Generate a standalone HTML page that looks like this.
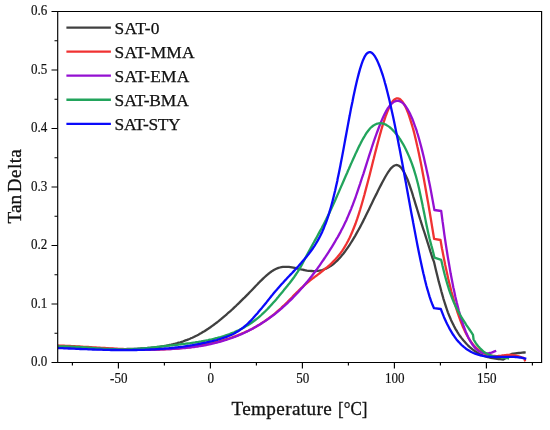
<!DOCTYPE html>
<html lang="en"><head><meta charset="utf-8"><title>Tan Delta vs Temperature</title>
<style>html,body{margin:0;padding:0;background:#fff}body{width:550px;height:430px;overflow:hidden}</style>
</head><body>
<svg width="550" height="430" viewBox="0 0 550 430" style="display:block">
<rect width="550" height="430" fill="#fff"/>
<g fill="none" stroke-width="2.3" stroke-linejoin="round" stroke-linecap="butt">
<path d="M58.0 346.5L59.5 346.6L61.0 346.6L62.5 346.7L64.0 346.8L65.5 346.9L67.1 347.0L68.6 347.1L70.1 347.1L71.6 347.2L73.1 347.3L74.6 347.4L76.1 347.5L77.6 347.6L79.1 347.7L80.0 347.7L80.6 347.7L82.1 347.8L83.7 347.9L85.2 348.0L86.7 348.1L88.2 348.1L89.7 348.2L91.2 348.3L92.7 348.4L94.2 348.4L95.7 348.5L97.2 348.6L98.8 348.6L100.0 348.7L100.3 348.7L101.8 348.7L103.3 348.8L104.8 348.8L106.3 348.9L107.8 348.9L109.3 349.0L110.8 349.0L112.3 349.0L113.8 349.0L115.0 349.1L115.4 349.1L116.9 349.1L118.4 349.1L119.9 349.1L121.4 349.1L122.9 349.1L124.4 349.1L125.9 349.1L127.4 349.0L128.0 349.0L128.9 349.0L130.4 349.0L132.0 348.9L133.5 348.9L135.0 348.8L136.5 348.8L138.0 348.7L139.5 348.6L140.0 348.6L141.0 348.5L142.5 348.4L144.0 348.3L145.5 348.2L147.0 348.1L148.0 348.0L148.6 348.0L150.1 347.9L151.6 347.7L153.1 347.6L154.6 347.4L156.1 347.2L157.3 347.1L157.6 347.0L159.1 346.8L160.6 346.6L162.1 346.4L163.6 346.2L165.2 345.9L166.4 345.7L166.7 345.6L168.2 345.3L169.7 345.0L171.2 344.7L172.7 344.3L174.2 344.0L175.5 343.6L175.7 343.6L177.2 343.2L178.7 342.7L180.3 342.3L181.8 341.8L183.3 341.3L184.5 340.8L184.8 340.7L186.3 340.2L187.8 339.6L189.3 339.0L190.0 338.7L190.8 338.3L192.3 337.7L193.8 337.0L195.3 336.2L196.9 335.5L198.4 334.7L199.1 334.3L199.9 333.8L201.4 333.0L202.9 332.1L204.4 331.2L205.9 330.2L207.4 329.2L208.2 328.7L208.9 328.2L210.4 327.2L211.9 326.1L213.5 325.0L215.0 323.9L216.5 322.8L217.3 322.1L218.0 321.6L219.5 320.4L221.0 319.2L222.5 317.9L224.0 316.6L225.5 315.4L226.4 314.6L227.0 314.0L228.5 312.7L230.1 311.4L231.6 310.0L233.1 308.6L234.6 307.2L235.5 306.3L236.1 305.8L237.6 304.3L239.1 302.9L240.6 301.4L242.1 299.9L243.6 298.4L244.5 297.6L245.2 296.9L246.7 295.4L248.2 293.9L249.7 292.3L251.2 290.8L252.7 289.2L253.6 288.2L254.2 287.6L255.7 286.0L257.2 284.5L258.7 282.9L259.1 282.5L260.2 281.4L261.8 279.9L263.3 278.4L264.8 277.0L266.3 275.6L267.8 274.3L268.2 274.0L269.3 273.1L270.8 272.0L272.3 270.9L273.8 270.0L275.3 269.2L276.8 268.5L277.3 268.3L278.4 267.9L279.9 267.5L281.4 267.1L282.9 266.9L284.4 266.8L285.9 266.8L286.4 266.8L287.4 266.8L288.9 266.9L290.4 267.1L291.9 267.4L293.4 267.7L295.0 268.0L295.5 268.1L296.5 268.3L298.0 268.7L299.5 269.0L301.0 269.4L302.5 269.7L304.0 270.0L304.5 270.1L305.5 270.3L307.0 270.6L308.5 270.8L310.0 270.9L311.6 271.0L313.1 271.1L313.6 271.1L314.6 271.1L316.1 271.0L317.6 270.9L319.1 270.7L320.6 270.4L322.1 270.0L322.7 269.8L323.6 269.5L325.1 268.9L326.7 268.3L328.2 267.5L329.7 266.6L331.2 265.7L331.8 265.2L332.7 264.6L334.2 263.3L335.7 262.0L337.2 260.6L338.7 259.0L340.2 257.4L340.8 256.8L341.7 255.6L343.3 253.7L344.8 251.8L346.3 249.7L347.8 247.6L349.3 245.4L349.3 245.4L350.8 243.0L352.3 240.6L353.8 238.1L355.3 235.6L356.8 232.9L358.3 230.2L359.9 227.4L361.4 224.5L361.8 223.7L362.9 221.6L364.4 218.6L364.5 218.4L365.9 215.6L367.4 212.5L368.9 209.4L370.4 206.3L371.9 203.2L373.4 200.1L374.4 198.0L374.9 197.0L376.5 193.9L378.0 190.8L379.5 187.8L381.0 184.9L382.5 182.0L384.0 179.2L384.0 179.2L385.5 176.5L387.0 174.0L388.5 171.6L388.6 171.5L390.0 169.6L391.5 167.8L393.1 166.4L393.2 166.3L394.6 165.5L396.1 165.0L397.2 165.1L397.6 165.2L399.1 165.9L400.5 167.0L400.6 167.1L402.1 169.0L403.6 171.3L403.9 171.8L405.1 174.2L406.6 177.5L407.2 178.8L408.2 181.3L409.7 185.5L410.2 187.2L411.2 190.0L412.7 194.7L413.4 197.1L414.2 199.6L415.7 204.6L416.8 208.2L417.2 209.5L418.7 214.4L420.2 219.3L420.5 220.1L421.7 224.1L423.2 228.8L424.1 231.5L424.8 233.6L426.3 238.4L426.8 240.0L427.8 243.1L428.6 245.7L429.3 247.9L430.5 251.8L430.8 252.7L432.3 257.5L434.1 262.2L435.6 268.8L437.2 275.2L437.7 277.3L438.7 281.4L440.3 287.3L441.4 291.5L441.8 292.9L443.3 298.3L444.3 301.5L444.9 303.3L446.2 307.4L446.4 308.0L447.9 312.3L449.4 316.1L449.5 316.2L451.0 319.9L452.6 323.2L453.5 325.1L454.1 326.3L455.6 329.1L457.2 331.7L457.6 332.4L458.7 334.1L460.2 336.3L461.6 338.1L461.8 338.4L463.3 340.3L464.9 342.1L465.7 343.0L466.4 343.8L467.9 345.3L469.5 346.8L469.8 347.1L471.0 348.1L472.5 349.4L473.9 350.4L474.1 350.5L475.6 351.6L477.2 352.5L477.9 352.9L478.7 353.4L480.2 354.2L481.8 354.9L482.0 355.0L483.3 355.5L484.8 356.1L486.4 356.6L487.9 357.1L489.5 357.5L490.1 357.6L491.0 357.8L492.5 358.2L494.1 358.4L495.6 358.7L497.1 358.9L498.3 359.0L498.7 359.1L500.2 359.2L501.8 359.4L503.3 359.5L505.0 358.6L506.7 357.2L507.5 356.6L508.4 355.9L510.0 354.8L510.2 354.7L511.9 353.9L513.0 353.7L513.6 353.6L515.4 353.4L517.1 353.2L518.8 353.0L519.0 353.0L520.5 352.9L522.2 352.7L524.0 352.5L525.7 352.4" stroke="#404040"/>
<path d="M58.0 345.5L59.5 345.6L61.0 345.6L62.5 345.7L64.0 345.7L65.6 345.8L67.1 345.9L68.6 345.9L70.1 346.0L71.6 346.1L73.1 346.2L74.6 346.2L76.1 346.3L77.6 346.4L79.1 346.5L80.0 346.5L80.7 346.6L82.2 346.7L83.7 346.8L85.2 346.8L86.7 346.9L88.2 347.0L89.7 347.1L91.2 347.2L92.7 347.3L94.3 347.4L95.8 347.5L97.3 347.6L98.8 347.7L100.0 347.7L100.3 347.8L101.8 347.9L103.3 347.9L104.8 348.0L106.3 348.1L107.8 348.2L109.4 348.3L110.9 348.4L112.4 348.5L113.9 348.6L115.0 348.6L115.4 348.6L116.9 348.7L118.4 348.8L119.9 348.9L121.4 348.9L122.9 349.0L124.5 349.1L126.0 349.1L127.5 349.2L128.0 349.2L129.0 349.2L130.5 349.3L132.0 349.3L133.5 349.4L135.0 349.4L136.5 349.5L138.1 349.5L139.6 349.5L140.0 349.5L141.1 349.6L142.6 349.6L144.1 349.6L145.6 349.6L147.1 349.6L148.6 349.6L150.0 349.6L150.1 349.6L151.6 349.6L153.2 349.6L154.7 349.6L156.2 349.5L157.7 349.5L159.2 349.5L160.7 349.4L162.2 349.4L163.7 349.3L165.2 349.3L166.8 349.2L168.3 349.1L169.8 349.0L170.0 349.0L171.3 348.9L172.8 348.8L174.3 348.7L175.8 348.6L177.3 348.5L178.8 348.3L180.3 348.2L181.9 348.0L183.4 347.9L184.9 347.7L186.4 347.5L187.9 347.4L189.4 347.2L190.0 347.1L190.9 347.0L192.4 346.8L193.9 346.5L195.5 346.3L197.0 346.1L198.5 345.8L199.1 345.7L200.0 345.6L201.5 345.3L203.0 345.0L204.5 344.7L206.0 344.4L207.5 344.1L208.2 343.9L209.0 343.8L210.6 343.4L212.1 343.1L213.6 342.7L215.1 342.3L216.6 342.0L217.3 341.8L218.1 341.6L219.6 341.2L221.1 340.7L222.6 340.3L224.1 339.9L225.7 339.4L226.4 339.2L227.2 338.9L228.7 338.5L230.2 338.0L231.7 337.5L233.2 336.9L234.7 336.4L235.5 336.1L236.2 335.8L237.7 335.3L239.3 334.7L240.8 334.0L242.3 333.4L243.8 332.8L244.5 332.4L245.3 332.1L246.8 331.4L248.3 330.7L249.8 329.9L251.3 329.2L252.8 328.4L253.6 328.0L254.4 327.5L255.9 326.7L257.4 325.8L258.9 324.9L260.4 324.0L261.9 323.0L262.7 322.5L263.4 322.1L264.9 321.0L266.4 320.0L268.0 318.9L269.5 317.8L271.0 316.7L271.8 316.0L272.5 315.5L274.0 314.3L275.5 313.0L277.0 311.7L278.5 310.4L280.0 309.1L280.9 308.3L281.5 307.7L283.1 306.2L284.6 304.8L286.1 303.3L287.6 301.8L289.1 300.2L290.0 299.3L290.6 298.7L292.1 297.2L293.6 295.6L295.1 294.1L295.5 293.7L296.6 292.6L298.2 291.1L299.7 289.6L301.2 288.2L302.7 286.8L304.2 285.4L304.5 285.2L305.7 284.1L307.2 282.8L308.7 281.6L310.2 280.4L311.8 279.2L313.1 278.2L313.3 278.0L314.8 276.9L316.3 275.8L317.8 274.6L319.3 273.5L320.8 272.3L322.3 271.1L322.4 271.1L323.8 269.9L325.3 268.7L326.9 267.4L328.4 266.1L329.9 264.8L331.4 263.4L331.8 263.0L332.9 261.9L334.4 260.4L335.9 258.7L337.4 257.0L338.9 255.2L340.5 253.2L340.9 252.6L342.0 251.1L343.5 248.8L345.0 246.4L346.5 243.8L348.0 241.0L349.5 238.0L350.0 236.9L351.0 234.7L352.5 231.2L354.0 227.5L355.6 223.5L356.4 221.1L357.1 219.2L358.6 214.6L360.0 210.1L360.1 209.8L361.6 204.7L363.1 199.5L364.5 194.5L364.6 194.0L366.1 188.4L367.6 182.7L369.1 177.0L369.2 176.8L370.7 170.8L372.2 164.8L373.6 159.1L373.7 158.8L375.2 152.8L376.4 148.1L376.7 146.9L378.2 141.2L379.7 135.6L380.9 131.4L381.2 130.2L382.7 125.1L384.3 120.3L385.5 116.6L385.8 115.9L387.3 111.9L388.8 108.3L390.0 105.7L390.3 105.1L391.8 102.6L393.3 100.5L394.5 99.4L394.8 99.2L396.3 98.4L397.8 98.3L397.8 98.3L399.4 98.8L400.9 99.9L401.8 100.9L402.4 101.6L403.9 103.9L405.4 106.7L405.5 106.9L406.9 110.1L408.4 113.9L409.1 115.8L409.9 118.3L411.4 123.1L412.7 127.5L413.0 128.4L414.5 134.2L416.0 140.4L417.3 146.2L417.5 147.0L419.0 154.0L420.5 161.3L421.0 163.8L422.0 169.0L423.5 177.0L424.1 180.2L425.0 185.3L426.5 193.8L427.7 200.5L428.1 202.6L429.6 211.5L431.1 220.5L431.4 222.4L432.6 229.7L434.1 238.9L440.5 240.0L442.0 248.7L442.3 250.0L443.6 256.8L445.0 263.8L445.1 264.5L446.7 271.8L448.2 278.6L448.6 280.2L449.8 285.1L451.3 291.2L452.9 296.9L452.9 296.9L454.4 302.3L455.0 304.1L456.0 307.4L457.5 312.3L458.6 315.5L459.1 316.8L460.6 321.0L462.2 325.0L462.7 326.4L463.7 328.6L465.3 332.0L466.8 335.0L467.2 335.7L468.4 337.8L469.9 340.2L470.6 341.3L471.5 342.5L473.0 344.4L473.9 345.5L474.6 346.2L476.1 347.8L477.7 349.2L477.9 349.4L479.2 350.4L480.8 351.5L482.0 352.3L482.3 352.4L483.8 353.2L485.4 353.9L486.9 354.5L488.5 355.0L490.0 355.3L490.1 355.4L491.6 355.7L493.1 355.9L494.7 356.0L496.2 356.1L497.8 356.1L498.5 356.0L499.3 356.0L500.9 355.8L502.4 355.5L504.0 355.3L504.8 355.2L505.5 355.1L506.4 355.0L507.1 354.9L508.6 354.9L510.2 354.9L511.0 354.9L511.7 354.9L513.3 355.1L514.1 355.3L514.8 355.4L516.4 355.7L517.9 356.1L519.5 356.6L521.0 357.1L521.8 357.4L522.6 357.6L524.1 358.2L525.2 361.3" stroke="#F03232"/>
<path d="M58.0 347.0L59.5 347.1L61.0 347.2L62.5 347.3L64.0 347.4L65.6 347.5L67.1 347.6L68.6 347.6L70.1 347.7L71.6 347.8L73.1 347.9L74.6 348.0L76.1 348.1L77.7 348.1L79.2 348.2L80.0 348.3L80.7 348.3L82.2 348.4L83.7 348.4L85.2 348.5L86.7 348.6L88.2 348.6L89.7 348.7L91.3 348.7L92.8 348.8L94.3 348.9L95.8 348.9L97.3 349.0L98.8 349.0L100.0 349.1L100.3 349.1L101.8 349.1L103.3 349.2L104.9 349.2L106.4 349.2L107.9 349.3L109.4 349.3L110.9 349.4L112.4 349.4L113.9 349.4L115.0 349.4L115.4 349.4L117.0 349.5L118.5 349.5L120.0 349.5L121.5 349.5L123.0 349.6L124.5 349.6L126.0 349.6L127.5 349.6L128.0 349.6L129.0 349.6L130.6 349.6L132.1 349.6L133.6 349.6L135.1 349.6L136.6 349.6L138.1 349.6L139.6 349.6L140.0 349.6L141.1 349.6L142.7 349.6L144.2 349.6L145.7 349.6L147.2 349.6L148.7 349.6L150.0 349.6L150.2 349.6L151.7 349.5L153.2 349.5L154.7 349.5L156.3 349.5L157.8 349.4L159.3 349.4L160.8 349.4L162.3 349.3L163.8 349.3L165.3 349.2L166.8 349.2L168.4 349.1L169.9 349.0L170.0 349.0L171.4 349.0L172.9 348.9L174.4 348.8L175.9 348.7L177.4 348.6L178.9 348.5L180.4 348.4L182.0 348.2L183.5 348.1L185.0 348.0L186.5 347.8L188.0 347.7L189.5 347.5L190.0 347.5L191.0 347.3L192.5 347.1L194.0 347.0L195.6 346.7L197.1 346.5L198.6 346.3L199.1 346.2L200.1 346.1L201.6 345.8L203.1 345.6L204.6 345.3L206.1 345.0L207.7 344.7L208.2 344.6L209.2 344.4L210.7 344.1L212.2 343.7L213.7 343.4L215.2 343.0L216.7 342.6L217.3 342.5L218.2 342.2L219.7 341.8L221.3 341.4L222.8 341.0L224.3 340.5L225.8 340.0L226.4 339.8L227.3 339.5L228.8 339.0L230.3 338.5L231.8 338.0L233.4 337.4L234.9 336.8L235.5 336.6L236.4 336.2L237.9 335.6L239.4 335.0L240.9 334.4L242.4 333.7L243.9 333.0L244.5 332.7L245.4 332.3L247.0 331.6L248.5 330.8L250.0 330.0L251.5 329.2L253.0 328.4L253.6 328.1L254.5 327.6L256.0 326.7L257.5 325.8L259.0 324.9L260.6 324.0L262.1 323.0L262.7 322.6L263.6 322.1L265.1 321.1L266.6 320.0L268.1 319.0L269.6 317.9L271.1 316.8L271.8 316.3L272.7 315.6L274.2 314.5L275.7 313.3L277.2 312.1L278.7 310.8L280.2 309.6L280.9 309.0L281.7 308.3L283.2 306.9L284.7 305.6L286.3 304.2L287.8 302.8L289.3 301.3L290.0 300.6L290.8 299.9L292.3 298.4L293.8 296.8L295.3 295.2L295.5 295.1L296.8 293.6L298.4 292.0L299.9 290.3L301.4 288.6L302.9 286.9L304.4 285.1L304.5 285.0L305.9 283.3L307.4 281.5L308.9 279.6L310.4 277.7L312.0 275.8L313.5 273.8L314.5 272.5L315.0 271.8L316.5 269.8L318.0 267.7L319.5 265.6L321.0 263.4L322.5 261.2L323.0 260.5L324.0 259.0L325.6 256.7L327.1 254.4L328.6 252.1L330.1 249.7L331.6 247.3L332.5 245.8L333.1 244.8L334.6 242.3L336.1 239.7L337.7 237.1L339.2 234.4L340.7 231.6L342.1 228.8L342.2 228.7L343.7 225.7L345.2 222.6L346.5 219.9L346.7 219.3L348.2 215.9L349.7 212.3L351.3 208.6L351.5 207.9L352.8 204.7L354.3 200.7L355.8 196.6L355.8 196.5L357.3 192.1L358.8 187.7L360.0 184.1L360.3 183.1L361.8 178.5L363.4 173.8L364.5 170.3L364.9 169.1L366.4 164.4L367.3 161.5L367.9 159.6L369.4 154.9L370.9 150.3L371.8 147.5L372.4 145.7L373.9 141.2L375.4 136.8L376.4 134.1L377.0 132.5L378.5 128.5L380.0 124.6L380.9 122.3L381.5 120.9L383.0 117.5L384.5 114.3L385.5 112.4L386.0 111.4L387.5 108.8L389.1 106.6L390.0 105.4L390.6 104.7L392.1 103.2L393.6 102.1L394.5 101.5L395.1 101.3L396.6 100.9L397.3 100.8L398.1 100.9L399.6 101.2L401.1 101.9L401.8 102.4L402.7 103.0L404.2 104.5L405.5 106.1L405.7 106.4L407.2 108.6L408.7 111.2L409.1 111.9L410.2 114.1L411.7 117.5L412.7 119.8L413.2 121.2L414.7 125.3L416.3 129.7L417.3 133.0L417.8 134.5L419.3 139.7L420.8 145.2L421.8 149.1L422.3 151.1L423.8 157.3L425.3 163.9L425.9 166.5L426.8 170.8L428.4 178.0L428.6 179.2L429.9 185.5L431.4 193.4L431.4 193.5L432.9 201.6L434.4 210.0L441.2 211.0L442.6 221.7L442.8 222.9L444.3 234.2L445.0 238.8L445.9 244.9L447.5 255.0L447.7 256.3L449.1 264.4L450.5 272.6L450.6 273.3L452.2 281.5L453.4 287.7L453.8 289.3L455.3 296.5L456.7 302.2L456.9 303.1L458.5 309.3L458.7 310.2L460.1 315.0L461.6 320.2L461.9 320.9L463.2 324.9L464.8 329.2L465.8 331.9L466.3 333.1L467.9 336.6L468.2 337.2L469.5 339.7L470.4 341.4L471.1 342.4L472.6 344.8L473.9 346.5L474.2 346.9L475.8 348.6L477.3 350.0L477.9 350.5L478.9 351.2L480.5 352.1L482.0 352.7L482.1 352.8L483.6 353.2L485.2 353.4L486.8 353.4L486.9 353.4L488.3 353.3L489.9 353.0L490.1 353.0L491.5 352.6L493.1 352.1L493.4 351.9L494.6 351.4L496.2 350.7" stroke="#9410D2"/>
<path d="M58.0 346.5L59.5 346.5L61.0 346.5L62.5 346.5L64.0 346.5L65.5 346.5L67.0 346.5L68.5 346.6L70.0 346.6L71.6 346.7L73.1 346.7L74.6 346.8L76.1 346.9L77.6 347.0L79.1 347.0L80.0 347.1L80.6 347.1L82.1 347.2L83.6 347.3L85.1 347.4L86.6 347.5L88.1 347.6L89.6 347.7L91.1 347.8L92.6 347.9L94.1 348.1L95.7 348.2L97.2 348.3L98.7 348.4L100.0 348.5L100.2 348.5L101.7 348.6L103.2 348.7L104.7 348.8L106.2 348.8L107.7 348.9L109.2 349.0L110.7 349.1L112.2 349.1L113.7 349.2L115.0 349.2L115.2 349.2L116.7 349.3L118.2 349.3L119.7 349.4L121.3 349.4L122.8 349.4L124.3 349.4L125.8 349.4L127.3 349.3L128.0 349.3L128.8 349.3L130.3 349.2L131.8 349.2L133.3 349.1L134.8 349.0L136.3 348.9L137.8 348.8L139.3 348.7L140.0 348.7L140.8 348.6L142.3 348.5L143.8 348.4L145.3 348.2L146.9 348.1L148.2 347.9L148.4 347.9L149.9 347.8L151.4 347.6L152.9 347.4L154.4 347.3L155.9 347.1L157.4 346.9L158.9 346.8L160.4 346.6L161.9 346.4L163.4 346.3L164.9 346.1L166.4 345.9L166.4 345.9L167.9 345.7L169.4 345.6L170.9 345.4L172.5 345.3L174.0 345.1L175.5 344.9L177.0 344.8L178.5 344.6L180.0 344.4L181.5 344.2L183.0 344.1L184.5 343.9L184.5 343.9L186.0 343.7L187.5 343.5L189.0 343.3L190.0 343.2L190.5 343.1L192.0 342.9L193.5 342.7L195.0 342.5L196.6 342.2L198.1 342.0L199.1 341.8L199.6 341.7L201.1 341.5L202.6 341.2L204.1 340.9L205.6 340.6L207.1 340.3L208.2 340.1L208.6 340.0L210.1 339.7L211.6 339.4L213.1 339.0L214.6 338.6L216.1 338.2L217.3 337.9L217.6 337.8L219.1 337.4L220.6 337.0L222.2 336.5L223.7 336.1L225.2 335.6L226.4 335.2L226.7 335.1L228.2 334.5L229.7 334.0L231.2 333.4L232.7 332.8L234.2 332.2L235.5 331.6L235.7 331.6L237.2 330.9L238.7 330.2L240.2 329.4L241.7 328.7L243.2 327.9L244.5 327.2L244.7 327.0L246.2 326.1L247.8 325.2L249.3 324.3L250.8 323.3L252.3 322.2L253.6 321.3L253.8 321.2L255.3 320.0L256.8 318.8L258.3 317.6L259.8 316.3L261.3 315.0L262.7 313.7L262.8 313.6L264.3 312.2L265.8 310.7L267.3 309.2L268.8 307.6L270.3 306.0L271.8 304.4L271.9 304.3L273.4 302.6L274.9 300.9L276.4 299.2L277.3 298.1L277.9 297.4L279.4 295.6L280.9 293.8L282.4 292.0L283.9 290.1L285.4 288.3L286.4 287.1L286.9 286.4L288.4 284.6L289.9 282.7L291.4 280.7L292.9 278.7L294.4 276.7L295.9 274.5L296.8 273.2L297.5 272.2L299.0 269.7L300.4 267.3L300.5 267.1L302.0 264.4L303.5 261.5L304.5 259.6L305.0 258.7L306.5 255.9L308.0 253.1L309.5 250.3L311.0 247.6L312.5 244.8L313.9 242.3L314.0 242.1L315.5 239.4L317.0 236.7L318.5 233.9L320.0 231.1L321.6 228.3L323.0 225.6L323.1 225.4L324.6 222.5L326.1 219.6L327.6 216.5L328.2 215.3L329.1 213.4L330.6 210.3L332.1 207.0L333.6 203.7L335.1 200.4L336.6 197.0L337.3 195.4L338.1 193.6L339.6 190.1L341.1 186.6L342.6 183.2L344.1 179.7L345.6 176.2L347.2 172.7L348.3 170.0L348.7 169.2L350.2 165.8L351.1 163.6L351.7 162.4L353.2 159.0L354.7 155.7L355.6 153.6L356.2 152.4L357.7 149.2L359.2 146.1L360.3 144.0L360.7 143.1L362.2 140.3L363.7 137.6L364.8 135.8L365.2 135.1L366.7 132.7L368.2 130.7L369.4 129.2L369.7 128.8L371.2 127.3L372.8 126.0L373.9 125.2L374.3 125.0L375.8 124.2L377.3 123.6L378.6 123.4L378.8 123.3L380.3 123.2L381.8 123.4L382.2 123.4L383.3 123.7L384.8 124.2L386.3 124.9L386.7 125.2L387.8 125.9L389.3 126.9L390.6 128.0L390.8 128.2L392.3 129.6L393.8 131.2L394.8 132.3L395.3 132.9L396.9 134.7L398.4 136.7L399.2 137.9L399.9 138.9L401.4 141.3L402.9 143.8L403.9 145.6L404.4 146.5L405.9 149.5L407.4 152.7L408.9 156.1L409.4 157.2L410.4 159.7L411.9 163.7L413.4 168.0L413.7 168.9L414.9 172.8L416.0 176.5L416.4 178.0L417.9 183.8L419.4 189.9L419.4 190.2L420.9 197.2L422.5 204.7L422.8 206.4L424.0 212.3L425.5 219.9L426.1 223.0L427.0 227.3L428.5 234.2L429.5 238.5L430.0 240.4L431.4 245.6L431.5 245.9L433.0 251.5L433.2 252.3L434.5 257.7L441.2 259.9L442.6 266.1L442.8 266.9L444.4 273.4L445.0 275.8L446.0 279.4L447.6 284.8L448.6 288.2L449.1 289.8L450.7 294.4L452.3 298.6L452.3 298.6L453.9 302.5L455.5 306.1L455.9 306.9L457.1 309.3L457.6 310.3L458.7 312.4L460.3 315.2L461.6 317.5L461.9 317.9L463.5 320.5L465.1 322.9L465.7 323.9L466.6 325.3L468.2 327.6L469.8 330.0L469.8 330.0L471.4 332.4L473.0 334.9L473.6 339.5L475.2 342.1L475.5 342.6L476.8 344.5L478.4 346.5L478.7 346.8L480.1 348.3L481.7 349.9L482.0 350.2L483.3 351.3L484.9 352.5L486.1 353.3L486.5 353.5L488.1 354.3L489.7 355.0L490.1 355.2L491.4 355.6L493.0 356.1L494.6 356.5L496.2 356.8L497.8 357.0L498.3 357.1L499.4 357.2L501.0 357.4L502.6 357.6L504.3 357.7L505.9 358.0L506.4 358.0L507.5 358.2L509.1 358.5" stroke="#22A45C"/>
<path d="M58.0 348.0L59.5 348.1L61.0 348.1L62.5 348.2L64.0 348.3L65.6 348.3L67.1 348.4L68.6 348.5L70.1 348.5L71.6 348.6L73.1 348.7L74.6 348.7L76.1 348.8L77.6 348.9L79.1 348.9L80.0 349.0L80.7 349.0L82.2 349.1L83.7 349.1L85.2 349.2L86.7 349.2L88.2 349.3L89.7 349.3L91.2 349.4L92.7 349.5L94.2 349.5L95.8 349.6L97.3 349.6L98.8 349.7L100.0 349.7L100.3 349.7L101.8 349.7L103.3 349.8L104.8 349.8L106.3 349.9L107.8 349.9L109.3 349.9L110.9 350.0L112.4 350.0L113.9 350.0L115.0 350.0L115.4 350.0L116.9 350.1L118.4 350.1L119.9 350.1L121.4 350.1L122.9 350.1L124.4 350.1L126.0 350.1L127.5 350.1L128.0 350.1L129.0 350.1L130.5 350.1L132.0 350.1L133.5 350.0L135.0 350.0L136.5 350.0L138.0 349.9L139.5 349.9L140.0 349.9L141.1 349.9L142.6 349.8L144.1 349.8L145.6 349.7L147.1 349.7L148.2 349.6L148.6 349.6L150.1 349.5L151.6 349.4L153.1 349.4L154.6 349.3L156.2 349.2L157.7 349.1L159.2 349.0L160.7 348.9L162.2 348.8L163.7 348.7L165.2 348.5L166.4 348.4L166.7 348.4L168.2 348.3L169.7 348.1L171.3 348.0L172.8 347.8L174.3 347.7L175.8 347.5L177.3 347.3L178.8 347.1L180.3 347.0L181.8 346.8L183.3 346.6L184.5 346.4L184.8 346.3L186.4 346.1L187.9 345.9L189.4 345.7L190.0 345.6L190.9 345.4L192.4 345.2L193.9 344.9L195.4 344.7L196.9 344.4L198.4 344.1L199.1 344.0L199.9 343.8L201.5 343.5L203.0 343.2L204.5 342.9L206.0 342.6L207.5 342.2L208.2 342.1L209.0 341.9L210.5 341.5L212.0 341.2L213.5 340.8L215.0 340.4L216.6 340.0L217.3 339.8L218.1 339.5L219.6 339.1L221.1 338.7L222.6 338.2L224.1 337.7L225.6 337.2L226.4 336.9L227.1 336.6L228.6 336.0L230.1 335.4L231.7 334.7L233.2 334.0L234.7 333.2L235.5 332.7L236.2 332.3L237.7 331.4L239.2 330.5L240.7 329.4L242.2 328.3L243.7 327.1L244.5 326.5L245.2 325.9L246.8 324.5L248.3 323.1L249.8 321.6L251.3 320.1L252.8 318.5L253.6 317.6L254.3 316.8L255.8 315.1L257.3 313.4L258.8 311.6L260.3 309.8L261.9 307.9L262.7 306.9L263.4 306.1L264.9 304.2L266.4 302.4L267.9 300.5L269.4 298.6L270.9 296.7L271.8 295.6L272.4 294.9L273.9 293.0L275.4 291.2L277.0 289.5L277.3 289.1L278.5 287.7L280.0 286.0L281.5 284.3L283.0 282.7L284.5 281.0L286.0 279.4L286.4 279.0L287.5 277.8L289.0 276.2L290.5 274.6L292.1 273.0L293.6 271.4L295.1 269.8L295.5 269.3L296.6 268.1L298.1 266.5L299.6 264.8L301.1 263.1L302.6 261.3L304.1 259.6L304.8 258.8L305.6 257.8L307.2 255.9L308.7 254.0L309.8 252.5L310.2 252.0L311.7 250.0L312.8 248.5L313.2 247.8L314.7 245.6L315.7 244.0L316.2 243.2L317.7 240.6L318.1 239.9L319.2 237.9L320.6 235.3L320.7 234.9L322.3 231.7L323.0 229.9L323.8 228.2L325.1 224.7L325.3 224.4L326.8 220.3L327.4 218.6L328.3 215.8L329.4 212.4L329.8 210.9L330.8 207.5L331.3 205.7L332.7 200.5L332.8 200.1L334.3 194.0L335.2 190.3L335.8 187.4L337.4 180.5L337.5 179.6L338.9 173.1L340.4 165.5L340.7 163.8L341.9 157.6L343.4 149.6L344.9 141.4L345.1 140.3L346.4 133.2L347.9 125.1L349.4 117.0L349.6 116.1L350.9 109.1L352.5 101.5L353.4 96.7L354.0 94.1L355.5 87.1L357.0 80.6L357.7 77.7L358.5 74.6L360.0 69.1L361.5 64.3L362.3 62.1L363.0 60.2L364.5 56.9L365.9 54.6L366.0 54.4L367.6 52.9L369.1 52.2L369.5 52.1L370.6 52.2L372.1 53.1L373.2 54.1L373.6 54.6L375.1 56.7L376.6 59.4L376.8 59.7L378.1 62.6L379.6 66.3L380.5 68.6L381.1 70.4L382.7 75.0L384.2 80.0L385.0 83.0L385.7 85.4L387.2 91.2L388.7 97.3L389.5 100.6L390.2 103.7L391.7 110.4L393.2 117.3L394.5 123.4L394.7 124.5L396.2 131.9L397.8 139.6L399.1 146.5L399.3 147.3L400.8 155.3L402.3 163.3L403.3 168.8L403.8 171.5L405.3 179.7L405.9 182.9L406.8 188.0L408.3 196.2L409.5 202.7L409.8 204.5L411.3 212.8L412.9 221.0L413.2 222.8L414.4 229.1L415.9 237.1L416.9 242.4L417.4 244.9L418.9 252.4L420.4 259.8L421.1 263.0L421.9 266.8L423.4 273.5L424.0 275.8L424.9 279.8L426.4 285.8L427.5 289.6L428.0 291.3L429.5 296.3L431.0 300.9L431.0 300.9L432.5 304.8L434.0 308.2L440.8 309.0L442.4 313.1L442.9 314.4L443.9 316.9L445.5 320.4L446.2 322.0L447.0 323.7L448.6 326.8L449.4 328.4L450.1 329.7L451.7 332.3L453.2 334.8L453.5 335.2L454.8 337.1L456.3 339.2L457.6 340.7L457.9 341.1L459.5 342.8L461.0 344.4L461.6 345.0L462.6 345.9L464.1 347.2L465.7 348.4L465.7 348.5L467.2 349.5L468.8 350.5L469.8 351.1L470.3 351.4L471.9 352.3L473.4 353.0L473.9 353.2L475.0 353.6L476.6 354.2L478.1 354.7L479.7 355.2L481.2 355.6L482.0 355.7L482.8 355.9L484.3 356.2L485.9 356.4L487.4 356.6L489.0 356.7L490.1 356.8L490.5 356.8L492.1 356.9L493.7 356.9L495.2 357.0L496.8 357.0L498.3 356.9L498.3 356.9L499.9 356.9L501.4 356.9L503.0 356.9L504.5 356.8L506.1 356.8L506.4 356.8L507.6 356.8L509.2 356.8L510.8 356.8L512.3 356.8L513.9 356.9L514.1 356.9L515.4 357.0L517.0 357.1L518.5 357.3L520.1 357.5L521.6 357.7L521.8 357.8L523.2 358.0L524.7 358.4L526.3 358.8" stroke="#0A0AFA"/>
</g>
<g stroke="#000" stroke-width="1.15" fill="none">
<path d="M57.7 11.5H541.6V362.5H57.7Z"/>
<path d="M57.7 362.50h-6.2M57.7 304.00h-6.2M57.7 245.50h-6.2M57.7 187.00h-6.2M57.7 128.50h-6.2M57.7 70.00h-6.2M57.7 11.50h-6.2M57.7 333.25h-3.2M57.7 274.75h-3.2M57.7 216.25h-3.2M57.7 157.75h-3.2M57.7 99.25h-3.2M57.7 40.75h-3.2M118.40 362.5v6M210.40 362.5v6M302.40 362.5v6M394.40 362.5v6M486.40 362.5v6M72.40 362.5v3.1M164.40 362.5v3.1M256.40 362.5v3.1M348.40 362.5v3.1M440.40 362.5v3.1M532.40 362.5v3.1"/>
</g>
<g font-family="'Liberation Serif', 'DejaVu Serif', serif" font-size="14.6" fill="#111" stroke="#111" stroke-width="0.2">
<text x="31.07" y="366.4" textLength="16.33" lengthAdjust="spacingAndGlyphs">0.0</text>
<text x="31.07" y="307.9" textLength="16.33" lengthAdjust="spacingAndGlyphs">0.1</text>
<text x="31.07" y="249.4" textLength="16.33" lengthAdjust="spacingAndGlyphs">0.2</text>
<text x="31.07" y="190.9" textLength="16.33" lengthAdjust="spacingAndGlyphs">0.3</text>
<text x="31.07" y="132.4" textLength="16.33" lengthAdjust="spacingAndGlyphs">0.4</text>
<text x="31.07" y="73.9" textLength="16.33" lengthAdjust="spacingAndGlyphs">0.5</text>
<text x="31.07" y="15.4" textLength="16.33" lengthAdjust="spacingAndGlyphs">0.6</text>
<text x="110.09" y="382.8" textLength="17.42" lengthAdjust="spacingAndGlyphs">-50</text>
<text x="207.53" y="382.8" textLength="6.53" lengthAdjust="spacingAndGlyphs">0</text>
<text x="296.27" y="382.8" textLength="13.07" lengthAdjust="spacingAndGlyphs">50</text>
<text x="385.00" y="382.8" textLength="19.60" lengthAdjust="spacingAndGlyphs">100</text>
<text x="477.00" y="382.8" textLength="19.60" lengthAdjust="spacingAndGlyphs">150</text>
</g>
<g font-family="'Liberation Serif', 'DejaVu Serif', serif" font-size="19.2" fill="#111" stroke="#111" stroke-width="0.3">
<text y="414.8"><tspan x="231.4" textLength="100.4" lengthAdjust="spacing">Temperature</tspan> <tspan x="338.0" textLength="29.4" lengthAdjust="spacingAndGlyphs">[°C]</tspan></text>
<g transform="translate(21.3 0) rotate(-90)">
<text y="0"><tspan x="-223.4">Tan</tspan> <tspan x="-192.3" textLength="43.2" lengthAdjust="spacing">Delta</tspan></text>
</g></g>
<g font-family="'Liberation Serif', 'DejaVu Serif', serif" font-size="17.4" fill="#111" stroke="#111" stroke-width="0.25">
<path d="M66.4 27.60H110.9" stroke="#404040" stroke-width="2.3" fill="none"/>
<text x="114.6" y="33.5" textLength="44.9" lengthAdjust="spacing">SAT-0</text>
<path d="M66.4 51.65H110.9" stroke="#F03232" stroke-width="2.3" fill="none"/>
<text x="114.6" y="57.6" textLength="80.0" lengthAdjust="spacing">SAT-MMA</text>
<path d="M66.4 75.70H110.9" stroke="#9410D2" stroke-width="2.3" fill="none"/>
<text x="114.6" y="81.6" textLength="74.6" lengthAdjust="spacing">SAT-EMA</text>
<path d="M66.4 99.75H110.9" stroke="#22A45C" stroke-width="2.3" fill="none"/>
<text x="114.6" y="105.7" textLength="74.2" lengthAdjust="spacing">SAT-BMA</text>
<path d="M66.4 123.80H110.9" stroke="#0A0AFA" stroke-width="2.3" fill="none"/>
<text x="114.6" y="129.7" textLength="66.0" lengthAdjust="spacing">SAT-STY</text>
</g>
</svg>
</body></html>
